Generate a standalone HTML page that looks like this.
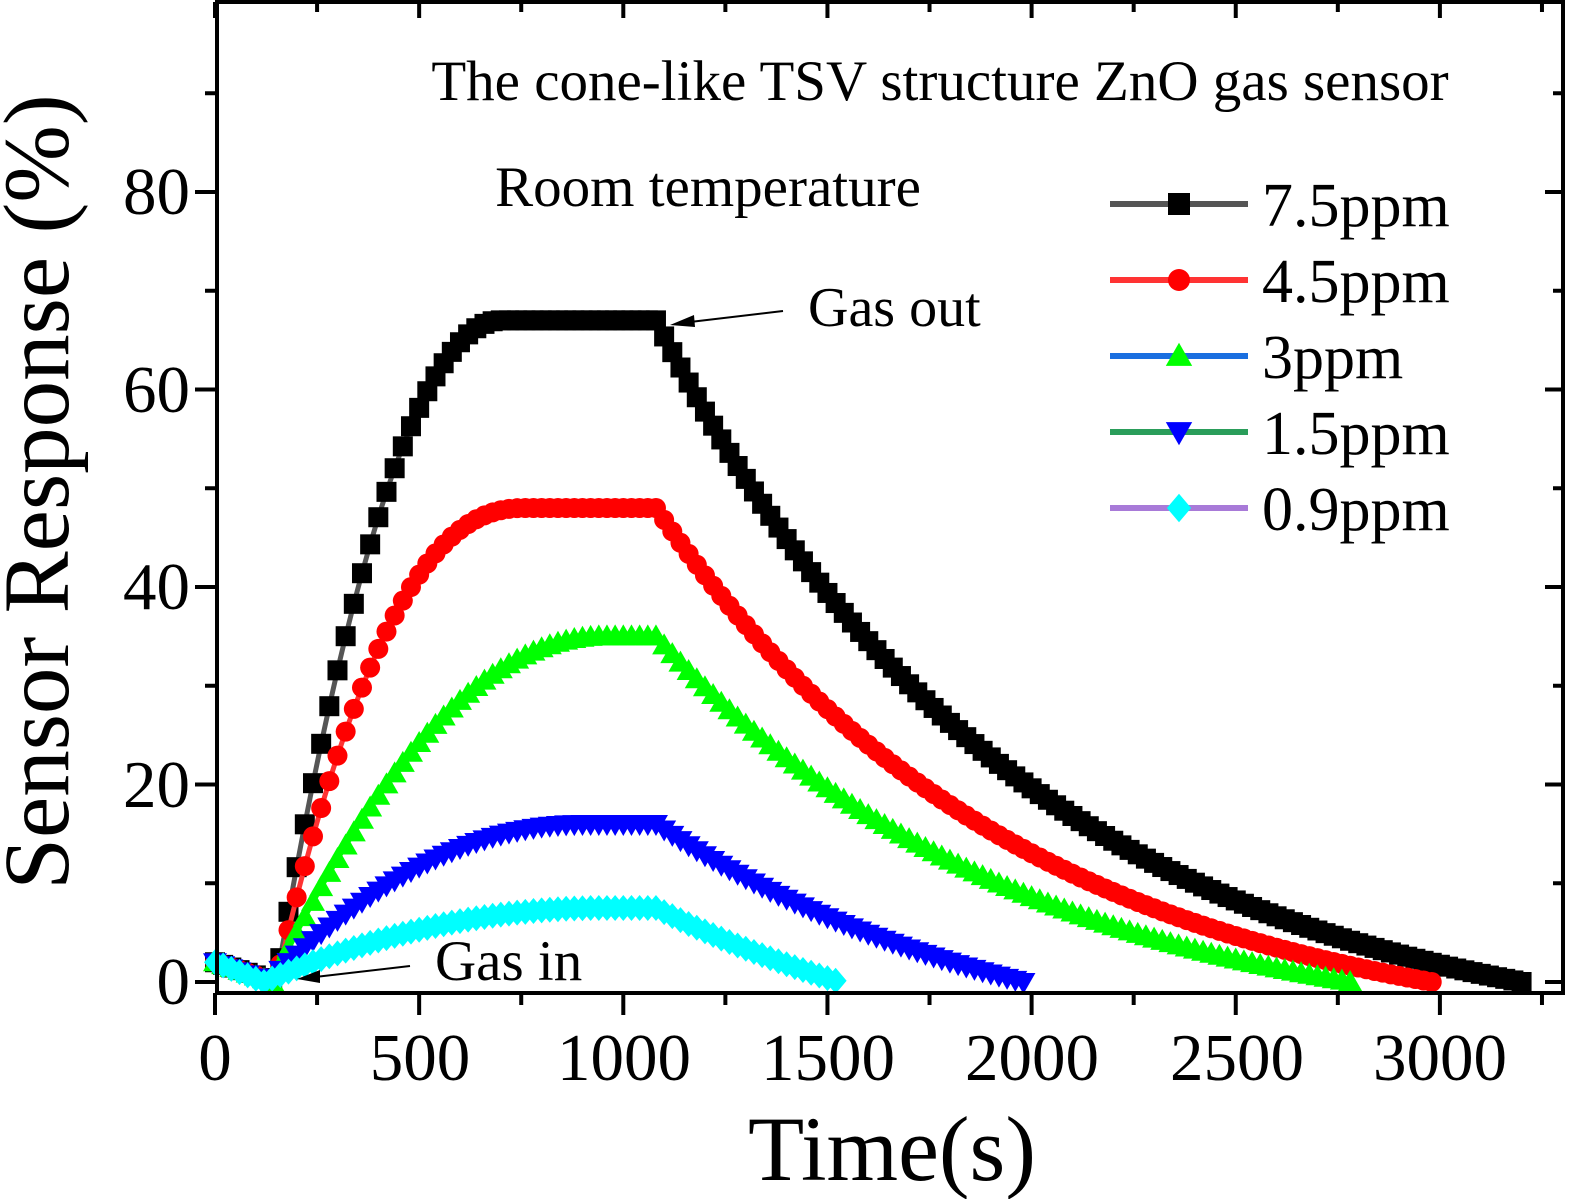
<!DOCTYPE html><html><head><style>body{margin:0;background:#fff}svg{display:block}</style></head><body>
<svg id="s" width="1570" height="1199" xmlns="http://www.w3.org/2000/svg" font-family="Liberation Serif, serif">
<g id="data"></g>
<g stroke="#000" stroke-width="4" fill="none">
<rect x="217" y="2" width="1346" height="991"/>
</g>
<g id="ticks" stroke="#000" stroke-width="4"></g>
<g font-size="67" text-anchor="middle" fill="#000">
<text x="215" y="1080">0</text><text x="420" y="1080">500</text><text x="624" y="1080">1000</text>
<text x="828" y="1080">1500</text><text x="1032" y="1080">2000</text><text x="1237" y="1080">2500</text><text x="1440" y="1080">3000</text>
</g>
<g font-size="67" text-anchor="end" fill="#000">
<text x="190" y="1004">0</text><text x="190" y="807">20</text><text x="190" y="609">40</text><text x="190" y="412">60</text><text x="190" y="214">80</text>
</g>
<text x="892" y="1180" font-size="92" text-anchor="middle">Time(s)</text>
<text transform="translate(68,492) rotate(-90)" font-size="93" text-anchor="middle">Sensor Response (%)</text>
<text x="940" y="100" font-size="57" text-anchor="middle">The cone-like TSV structure ZnO gas sensor</text>
<text x="708" y="206" font-size="57" text-anchor="middle">Room temperature</text>
<text x="808" y="326" font-size="56">Gas out</text>
<text x="435" y="980" font-size="57">Gas in</text>
<g stroke="#000" stroke-width="2"><line x1="783" y1="311" x2="690" y2="322"/><line x1="410" y1="966" x2="315" y2="977"/></g>
<polygon points="670,325 694,315 695,327" fill="#000"/>
<polygon points="297,979 320,970 320,983" fill="#000"/>
<g id="leg"></g>
</svg>
<script>
const NS="http://www.w3.org/2000/svg";
const X=t=>215+t*0.4083, Y=v=>982-v*9.875;
function el(p,n,a){const e=document.createElementNS(NS,n);for(const k in a)e.setAttribute(k,a[k]);p.appendChild(e);return e;}
const tk=document.getElementById('ticks');
for(let t=0;t<=3250;t+=250){const x=X(t);const maj=t%500==0;
 el(tk,'line',{x1:x,y1:993,x2:x,y2:maj?1015:1005});el(tk,'line',{x1:x,y1:2,x2:x,y2:maj?18:12});}
for(let v=0;v<=90;v+=10){const y=Y(v);const maj=v%20==0;
 el(tk,'line',{x1:217,y1:y,x2:maj?195:205,y2:y});el(tk,'line',{x1:1563,y1:y,x2:maj?1545:1553,y2:y});}
function mk(g,type,x,y,c,s){
 if(type=='sq')el(g,'rect',{x:x-s/2,y:y-s/2,width:s,height:s,fill:c});
 else if(type=='ci')el(g,'circle',{cx:x,cy:y,r:s/2,fill:c});
 else if(type=='up')el(g,'polygon',{points:`${x},${y-s*0.6} ${x-s*0.6},${y+s*0.45} ${x+s*0.6},${y+s*0.45}`,fill:c});
 else if(type=='dn')el(g,'polygon',{points:`${x},${y+s*0.6} ${x-s*0.6},${y-s*0.45} ${x+s*0.6},${y-s*0.45}`,fill:c});
 else el(g,'polygon',{points:`${x},${y-s*0.65} ${x-s*0.55},${y} ${x},${y+s*0.65} ${x+s*0.55},${y}`,fill:c});
}
const S=[
 {A:67,tp:700,p:2,tau:900,te:3200,t0:150,m:'sq',c:'#000',lc:'#555'},
 {A:48,tp:760,p:2.3,tau:900,te:2980,t0:150,m:'ci',c:'#f00',lc:'#f33'},
 {A:35,tp:950,p:2,tau:900,te:2780,t0:140,m:'up',c:'#0f0',lc:'#0f0'},
 {A:16,tp:900,p:2,tau:900,te:1980,t0:130,m:'dn',c:'#00f',lc:'#00f'},
 {A:7.5,tp:950,p:2,tau:900,te:1530,t0:120,m:'di',c:'#0ff',lc:'#0ff'}];
const g=document.getElementById('data');
S.forEach(s=>{
 const f=t=>{
  if(t<s.t0) return 2-2*t/s.t0;
  if(t<s.tp){const u=(t-s.t0)/(s.tp-s.t0);return s.A*(1-Math.pow(1-u,s.p));}
  if(t<1080) return s.A;
  const e=Math.exp(-(s.te-1080)/s.tau);return Math.max(0,s.A*(Math.exp(-(t-1080)/s.tau)-e)/(1-e));};
 let d='';for(let t=0;t<=s.te;t+=20)d+=(t?'L':'M')+X(t)+','+Y(f(t));
 el(g,'path',{d:d,stroke:s.lc,'stroke-width':5,fill:'none'});
 for(let t=0;t<=s.te;t+=20)mk(g,s.m,X(t),Y(f(t)),s.c,20);
});
const lg=document.getElementById('leg');
const L=[['7.5ppm','sq','#000','#555'],['4.5ppm','ci','#f00','#f33'],['3ppm','up','#0f0','#1a6fe0'],['1.5ppm','dn','#00f','#2a9d5a'],['0.9ppm','di','#0ff','#a87ad8']];
L.forEach((l,i)=>{const y=204+i*76;
 el(lg,'line',{x1:1110,y1:y,x2:1248,y2:y,stroke:l[3],'stroke-width':6});
 mk(lg,l[1],1179,y,l[2],22);
 const t=el(lg,'text',{x:1262,y:y+22,'font-size':62});t.textContent=l[0];});
</script>
</body></html>
